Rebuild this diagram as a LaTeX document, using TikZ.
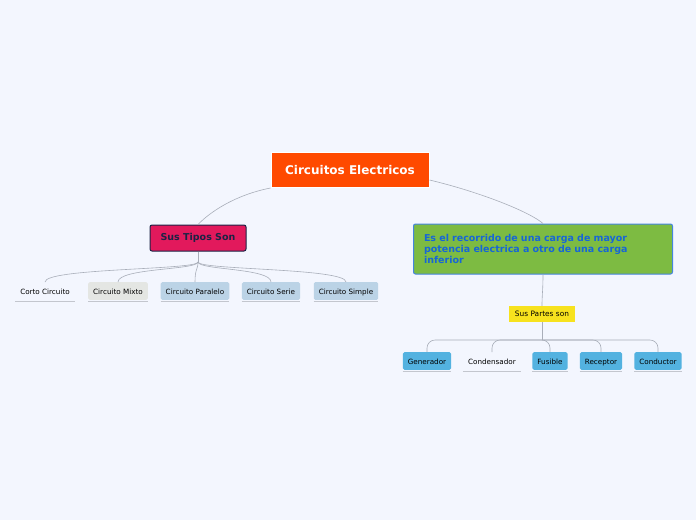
\documentclass[tikz,border=0pt]{standalone}
\usepackage{fontspec}
\setmainfont{DejaVu Sans}
\usetikzlibrary{positioning,calc}

\definecolor{bgblue}{HTML}{F3F6FE}
\definecolor{rootred}{HTML}{FF4A00}
\definecolor{tiposred}{HTML}{E2195C}
\definecolor{navy}{HTML}{1B2345}
\definecolor{greenbox}{HTML}{7DBB42}
\definecolor{bluetxt}{HTML}{1766D6}
\definecolor{yellowbox}{HTML}{F7E21E}
\definecolor{paleblue}{HTML}{BBD3E6}
\definecolor{palegray}{HTML}{E4E6E3}
\definecolor{skyblue}{HTML}{53B2E0}
\definecolor{linkgray}{HTML}{A9AEB9}

\begin{document}
\begin{tikzpicture}[x=1pt, y=-1pt,
    root/.style={draw=white, line width=1pt, fill=rootred, minimum width=158pt, minimum height=35pt, text=white, font=\bfseries\fontsize{12}{14}\selectfont},
    tipos/.style={draw=navy, line width=1pt, rounded corners=2pt, fill=tiposred, text=navy, minimum width=96pt, minimum height=26pt, font=\bfseries\fontsize{9.5}{11}\selectfont},
    info/.style={draw=bluetxt!80, line width=1pt, rounded corners=2pt, fill=greenbox, text=bluetxt, minimum width=259pt, minimum height=50pt, text width=238pt, align=left, font=\bfseries\fontsize{9.5}{11.3}\selectfont},
    partes/.style={fill=yellowbox, minimum width=66pt, minimum height=16pt, font=\fontsize{7.4}{9}\selectfont},
    leaf/.style={rounded corners=1.5pt, minimum height=14pt, inner xsep=5pt, text height=1.6ex, text depth=0.4ex, font=\fontsize{7.2}{9}\selectfont},
    link/.style={draw=linkgray, line width=0.6pt}
  ]
    \fill[bgblue] (0,0) rectangle (696,520);
    \useasboundingbox (0,0) rectangle (696,520);

    \node[root] (circ) at (350,170) {Circuitos Electricos};
    \node[tipos] (tipos) at (198,238) {Sus Tipos Son};
    \node[info] (def) at (543,249) {Es el recorrido de una carga de mayor\\potencia electrica a otro de una carga\\inferior};
    \node[partes] (partes) at (542,314) {Sus Partes son};

    % tipos de circuito
    \node[leaf] (corto) at (45,291) {Corto Circuito};
    \node[leaf, fill=palegray] (mixto) at (118,291) {Circuito Mixto};
    \node[leaf, fill=paleblue] (paralelo) at (195,291) {Circuito Paralelo};
    \node[leaf, fill=paleblue] (serie) at (271,291) {Circuito Serie};
    \node[leaf, fill=paleblue] (simple) at (346,291) {Circuito Simple};

    % partes del circuito
    \node[leaf, fill=skyblue] (generador) at (427,361) {Generador};
    \node[leaf] (condensador) at (492,361) {Condensador};
    \node[leaf, fill=skyblue] (fusible) at (550,361) {Fusible};
    \node[leaf, fill=skyblue] (receptor) at (601,361) {Receptor};
    \node[leaf, fill=skyblue] (conductor) at (658,361) {Conductor};

    \foreach \n in {corto,mixto,paralelo,serie,simple,generador,condensador,fusible,receptor,conductor}
      \draw[linkgray!70, line width=0.8pt] ([yshift=-1.5pt]\n.south west) -- ([yshift=-1.5pt]\n.south east);

    \draw[link] (circ.south west) .. controls (235,195) and (210,212) .. (tipos.north);
    \draw[link] (circ.east) ++(0,10) .. controls (480,192) and (530,212) .. (def.north);
    \draw[link] (def.south) .. controls (543,290) and (542,295) .. (partes.north);

    \coordinate (hub1) at (198,262);
    \draw[link] (tipos.south) -- (hub1);
    \foreach \n in {corto,mixto,paralelo,serie,simple}
      \draw[link] (hub1) .. controls (198,270) and ($(\n.north)+(0,-14)$) .. (\n.north);

    \coordinate (hub2) at (542,340);
    \draw[link] (partes.south) -- (hub2);
    \foreach \n in {generador,condensador,fusible,receptor,conductor}
      \draw[link, rounded corners=8pt] (hub2) -| (\n.north);
\end{tikzpicture}
\end{document}
